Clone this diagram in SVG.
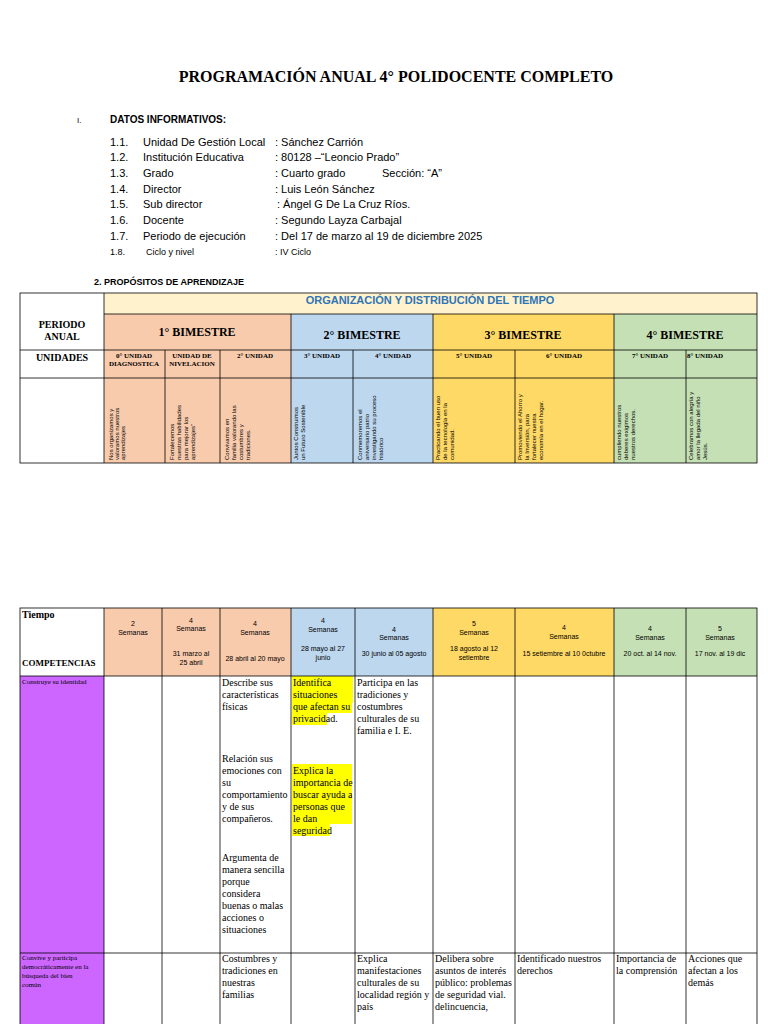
<svg xmlns="http://www.w3.org/2000/svg" width="768" height="1024" viewBox="0 0 768 1024">
<style>
.s{font-family:"Liberation Sans",Arial,sans-serif;fill:#000}
.t{font-family:"Liberation Serif","Times New Roman",serif;fill:#000}
.c{stroke:#000;stroke-width:0.8}
.r{font-family:"Liberation Sans",Arial,sans-serif;font-size:6px;fill:#000}
.hd{font-family:"Liberation Serif",serif;font-size:7px;font-weight:bold;text-anchor:middle}
.w{font-family:"Liberation Sans",Arial,sans-serif;font-size:7px;text-anchor:middle}
.b{font-family:"Liberation Serif",serif;font-size:10px}
.hl{fill:#ffff00}
</style>
<rect width="768" height="1024" fill="#fff"/>
<text class="t" x="396" y="82" font-size="16" font-weight="bold" text-anchor="middle">PROGRAMACIÓN ANUAL 4° POLIDOCENTE COMPLETO</text>
<g class="s" font-size="11">
<text x="77" y="123" font-size="8">I.</text>
<text x="110" y="123" font-size="10" font-weight="bold">DATOS INFORMATIVOS:</text>
<text x="110" y="146">1.1.</text><text x="143" y="146">Unidad De Gestión Local</text><text x="275" y="146">: Sánchez Carrión</text>
<text x="110" y="161">1.2.</text><text x="143" y="161">Institución Educativa</text><text x="275" y="161">: 80128 –“Leoncio Prado”</text>
<text x="110" y="177">1.3.</text><text x="143" y="177">Grado</text><text x="275" y="177">: Cuarto grado</text><text x="382" y="177">Sección: “A”</text>
<text x="110" y="193">1.4.</text><text x="143" y="193">Director</text><text x="275" y="193">: Luis León Sánchez</text>
<text x="110" y="208">1.5.</text><text x="143" y="208">Sub director</text><text x="277" y="208">: Ángel G De La Cruz Ríos.</text>
<text x="110" y="224">1.6.</text><text x="143" y="224">Docente</text><text x="275" y="224">:   Segundo Layza Carbajal</text>
<text x="110" y="240">1.7.</text><text x="143" y="240">Periodo de ejecución</text><text x="275" y="240">:   Del 17 de marzo al 19 de diciembre 2025</text>
<text x="110" y="255" font-size="9">1.8.</text><text x="146" y="255" font-size="9">Ciclo y nivel</text><text x="275" y="255" font-size="9">:   IV Ciclo</text>
<text x="94" y="285" font-size="9" font-weight="bold">2.   PROPÓSITOS DE APRENDIZAJE</text>
</g>
<g id="table1">
<rect x="104" y="293" width="653" height="21" fill="#fff2cc"/>
<rect x="104" y="314" width="187" height="149" fill="#f8cbad"/>
<rect x="291" y="314" width="142" height="149" fill="#bdd7ee"/>
<rect x="433" y="314" width="181" height="149" fill="#ffd966"/>
<rect x="614" y="314" width="143" height="149" fill="#c5e0b4"/>
<g class="c" fill="none">
<rect x="20" y="293" width="737" height="170"/>
<line x1="104" y1="293" x2="104" y2="463"/>
<line x1="104" y1="314" x2="757" y2="314"/>
<line x1="20" y1="350" x2="757" y2="350"/>
<line x1="20" y1="378" x2="757" y2="378"/>
<line x1="291" y1="314" x2="291" y2="463"/><line x1="433" y1="314" x2="433" y2="463"/><line x1="614" y1="314" x2="614" y2="463"/>
<line x1="165" y1="350" x2="165" y2="463"/><line x1="220" y1="350" x2="220" y2="463"/><line x1="353" y1="350" x2="353" y2="463"/><line x1="515" y1="350" x2="515" y2="463"/><line x1="686" y1="350" x2="686" y2="463"/>
</g>
<text x="430" y="304" font-family="Liberation Sans,sans-serif" font-size="11" font-weight="bold" fill="#2e75b6" text-anchor="middle">ORGANIZACIÓN Y DISTRIBUCIÓN DEL TIEMPO</text>
<g class="t" font-weight="bold" text-anchor="middle">
<text x="62" y="328" font-size="10">PERIODO</text><text x="62" y="340" font-size="10">ANUAL</text>
<text x="62" y="361" font-size="10">UNIDADES</text>
<text x="197" y="336" font-size="12">1° BIMESTRE</text><text x="362" y="339" font-size="12">2° BIMESTRE</text>
<text x="523" y="339" font-size="12">3° BIMESTRE</text><text x="685" y="339" font-size="12">4° BIMESTRE</text>
</g>
<text class="hd" x="134" y="358">0° UNIDAD</text><text class="hd" x="134" y="366">DIAGNOSTICA</text>
<text class="hd" x="192" y="358">UNIDAD DE</text><text class="hd" x="192" y="366">NIVELACION</text>
<text class="hd" x="255" y="358">2° UNIDAD</text><text class="hd" x="322" y="358">3° UNIDAD</text><text class="hd" x="393" y="358">4° UNIDAD</text>
<text class="hd" x="474" y="358">5° UNIDAD</text><text class="hd" x="564" y="358">6° UNIDAD</text><text class="hd" x="650" y="358">7° UNIDAD</text><text class="hd" x="705" y="358">8° UNIDAD</text>
<g class="r">
<text transform="translate(113,460) rotate(-90)">Nos    organizamos     y</text>
<text transform="translate(119,460) rotate(-90)">valoramos         nuestros</text>
<text transform="translate(125,460) rotate(-90)">aprendizajes</text>
<text transform="translate(174,460) rotate(-90)">Fortalecemos</text>
<text transform="translate(181,460) rotate(-90)">nuestras habilidades</text>
<text transform="translate(188,460) rotate(-90)">para     mejorar    los</text>
<text transform="translate(195,460) rotate(-90)">aprendizajes”</text>
<text transform="translate(229,460) rotate(-90)">Convivamos          en</text>
<text transform="translate(236,460) rotate(-90)">familia valorando las</text>
<text transform="translate(243,460) rotate(-90)">costumbres           y</text>
<text transform="translate(250,460) rotate(-90)">tradiciones.</text>
<text transform="translate(298,460) rotate(-90)">Juntos Construimos</text>
<text transform="translate(305,460) rotate(-90)">un Futuro Sostenible</text>
<text transform="translate(362,460) rotate(-90)">Conmemoremos         el</text>
<text transform="translate(369,460) rotate(-90)">aniversario          patrio</text>
<text transform="translate(376,460) rotate(-90)">investigando su proceso</text>
<text transform="translate(383,460) rotate(-90)">histórico</text>
<text transform="translate(440,460) rotate(-90)">Practicando el buen uso</text>
<text transform="translate(447,460) rotate(-90)">de la tecnología en la</text>
<text transform="translate(454,460) rotate(-90)">comunidad.</text>
<text transform="translate(522,460) rotate(-90)">Promoviendo el Ahorro y</text>
<text transform="translate(529,460) rotate(-90)">la      Inversión,      para</text>
<text transform="translate(536,460) rotate(-90)">fortalecer        nuestra</text>
<text transform="translate(543,460) rotate(-90)">economía en el hogar.</text>
<text transform="translate(621,460) rotate(-90)">cumpliendo          nuestros</text>
<text transform="translate(628,460) rotate(-90)">deberes            exigimos</text>
<text transform="translate(635,460) rotate(-90)">nuestros derechos.</text>
<text transform="translate(693,460) rotate(-90)">Celebramos con alegría y</text>
<text transform="translate(700,460) rotate(-90)">amor la llegada del niño</text>
<text transform="translate(707,460) rotate(-90)">Jesús.</text>
</g>
</g>
<g id="table2">
<rect x="104" y="608" width="187" height="68" fill="#f8cbad"/>
<rect x="291" y="608" width="142" height="68" fill="#bdd7ee"/>
<rect x="433" y="608" width="181" height="68" fill="#ffd966"/>
<rect x="614" y="608" width="143" height="68" fill="#c5e0b4"/>
<rect x="20" y="676" width="84" height="277" fill="#cc66ff"/>
<rect x="20" y="953" width="84" height="71" fill="#cc66ff"/>
<rect x="292" y="676" width="61" height="27" class="hl"/>
<rect x="292" y="703" width="61" height="25" class="hl" opacity="0"/>
<rect x="292" y="677" width="46" height="12" class="hl"/><rect x="292" y="689" width="60" height="12" class="hl"/><rect x="292" y="701" width="60" height="12" class="hl"/><rect x="292" y="713" width="35" height="12" class="hl"/>
<rect x="292" y="764" width="60" height="12" class="hl"/><rect x="292" y="776" width="60" height="12" class="hl"/><rect x="292" y="788" width="60" height="12" class="hl"/><rect x="292" y="800" width="60" height="12" class="hl"/><rect x="292" y="812" width="60" height="12" class="hl"/><rect x="292" y="824" width="38" height="12" class="hl"/>
<g class="c" fill="none">
<rect x="20" y="608" width="737" height="430"/>
<line x1="20" y1="676" x2="757" y2="676"/><line x1="20" y1="953" x2="757" y2="953"/>
<line x1="104" y1="608" x2="104" y2="1024"/><line x1="162" y1="608" x2="162" y2="1024"/><line x1="220" y1="608" x2="220" y2="1024"/><line x1="291" y1="608" x2="291" y2="1024"/><line x1="355" y1="608" x2="355" y2="1024"/><line x1="433" y1="608" x2="433" y2="1024"/><line x1="515" y1="608" x2="515" y2="1024"/><line x1="614" y1="608" x2="614" y2="1024"/><line x1="686" y1="608" x2="686" y2="1024"/>
</g>
<text class="t" x="22" y="618" font-size="10" font-weight="bold">Tiempo</text>
<text class="t" x="22" y="666" font-size="9" font-weight="bold">COMPETENCIAS</text>
<text class="w" x="133" y="626">2</text><text class="w" x="133" y="635">Semanas</text>
<text class="w" x="191" y="623">4</text><text class="w" x="191" y="631">Semanas</text><text class="w" x="191" y="656">31 marzo al</text><text class="w" x="191" y="665">25 abril</text>
<text class="w" x="255" y="626">4</text><text class="w" x="255" y="635">Semanas</text><text class="w" x="255" y="661">28 abril al 20 mayo</text>
<text class="w" x="323" y="623">4</text><text class="w" x="323" y="632">Semanas</text><text class="w" x="323" y="651">28 mayo al 27</text><text class="w" x="323" y="660">junio</text>
<text class="w" x="394" y="632">4</text><text class="w" x="394" y="640">Semanas</text><text class="w" x="394" y="656">30 junio al 05 agosto</text>
<text class="w" x="474" y="626">5</text><text class="w" x="474" y="635">Semanas</text><text class="w" x="474" y="651">18 agosto al 12</text><text class="w" x="474" y="660">setiembre</text>
<text class="w" x="564" y="630">4</text><text class="w" x="564" y="639">Semanas</text><text class="w" x="564" y="656">15 setiembre al 10 0ctubre</text>
<text class="w" x="650" y="631">4</text><text class="w" x="650" y="640">Semanas</text><text class="w" x="650" y="656">20 oct. al 14 nov.</text>
<text class="w" x="720" y="631">5</text><text class="w" x="720" y="640">Semanas</text><text class="w" x="720" y="656">17 nov. al 19 dic</text>
<g class="t" font-size="7"><text x="22" y="684">Construye su identidad</text>
<text x="22" y="960">Convive y participa</text><text x="22" y="969">democráticamente en la</text><text x="22" y="978">búsqueda del bien</text><text x="22" y="987">común</text></g>
<g class="b">
<text x="222" y="686">Describe          sus</text><text x="222" y="698">características</text><text x="222" y="710">físicas</text>
<text x="222" y="762">Relación          sus</text><text x="222" y="774">emociones        con</text><text x="222" y="786">su</text><text x="222" y="798">comportamiento</text><text x="222" y="810">y      de       sus</text><text x="222" y="822">compañeros.</text>
<text x="222" y="861">Argumenta         de</text><text x="222" y="873">manera sencilla</text><text x="222" y="885">porque</text><text x="222" y="897">considera</text><text x="222" y="909">buenas  o  malas</text><text x="222" y="921">acciones           o</text><text x="222" y="933">situaciones</text>
<text x="293" y="686">Identifica</text><text x="293" y="698">situaciones</text><text x="293" y="710">que afectan su</text><text x="293" y="722">privacidad.</text>
<text x="293" y="774">Explica            la</text><text x="293" y="786">importancia de</text><text x="293" y="798">buscar ayuda a</text><text x="293" y="810">personas     que</text><text x="293" y="822">le              dan</text><text x="293" y="834">seguridad</text>
<text x="357" y="686">Participa  en  las</text><text x="357" y="698">tradiciones         y</text><text x="357" y="710">costumbres</text><text x="357" y="722">culturales  de  su</text><text x="357" y="734">familia e I. E.</text>
<text x="222" y="962">Costumbres          y</text><text x="222" y="974">tradiciones        en</text><text x="222" y="986">nuestras</text><text x="222" y="998">familias</text>
<text x="357" y="962">Explica</text><text x="357" y="974">manifestaciones</text><text x="357" y="986">culturales  de  su</text><text x="357" y="998">localidad región y</text><text x="357" y="1010">país</text>
<text x="435" y="962">Delibera          sobre</text><text x="435" y="974">asuntos de interés</text><text x="435" y="986">público: problemas</text><text x="435" y="998">de  seguridad  vial.</text><text x="435" y="1010">delincuencia,</text>
<text x="517" y="962">Identificado   nuestros</text><text x="517" y="974">derechos</text>
<text x="616" y="962">Importancia  de</text><text x="616" y="974">la comprensión</text>
<text x="688" y="962">Acciones          que</text><text x="688" y="974">afectan   a   los</text><text x="688" y="986">demás</text>
</g>
</g>
</svg>
